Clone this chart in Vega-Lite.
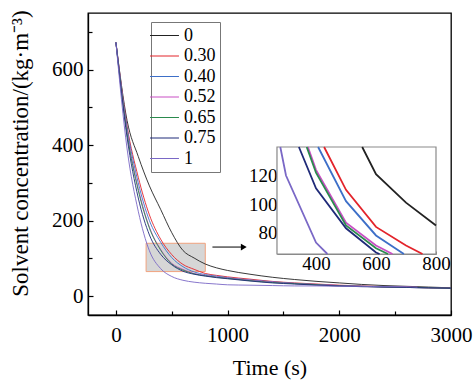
{
  "$schema": "https://vega.github.io/schema/vega-lite/v6.json",
  "width": 363,
  "height": 302,
  "autosize": {"type": "none"},
  "padding": {"left": 88, "top": 13, "right": 23, "bottom": 69},
  "config": {
    "font": "Liberation Serif",
    "view": {"stroke": "black", "strokeWidth": 1.3},
    "axis": {"labelFont": "Liberation Serif", "titleFont": "Liberation Serif", "labelColor": "black", "titleColor": "black", "titleFontWeight": "normal", "domainColor": "black", "tickColor": "black", "grid": false, "labelFlush": false},
    "legend": {"labelFont": "Liberation Serif", "labelFontSize": 18, "labelColor": "black"}
  },
  "datasets": {
    "main": [
      {"s":"0","t":0,"c":672},{"s":"0","t":100,"c":465},{"s":"0","t":200,"c":370},{"s":"0","t":300,"c":292},{"s":"0","t":400,"c":230},{"s":"0","t":500,"c":168},{"s":"0","t":600,"c":121},{"s":"0","t":700,"c":101},{"s":"0","t":800,"c":85},{"s":"0","t":900,"c":75},{"s":"0","t":1000,"c":68},{"s":"0","t":1200,"c":58},{"s":"0","t":1400,"c":50},{"s":"0","t":1600,"c":44},{"s":"0","t":1800,"c":39},{"s":"0","t":2000,"c":35},{"s":"0","t":2200,"c":31},{"s":"0","t":2400,"c":28},{"s":"0","t":2600,"c":26},{"s":"0","t":2800,"c":24},{"s":"0","t":3000,"c":22},
      {"s":"0.30","t":0,"c":672},{"s":"0.30","t":100,"c":450},{"s":"0.30","t":200,"c":315},{"s":"0.30","t":300,"c":215},{"s":"0.30","t":400,"c":151},{"s":"0.30","t":500,"c":110},{"s":"0.30","t":600,"c":84},{"s":"0.30","t":700,"c":71},{"s":"0.30","t":800,"c":60},{"s":"0.30","t":900,"c":55},{"s":"0.30","t":1000,"c":51},{"s":"0.30","t":1200,"c":45},{"s":"0.30","t":1400,"c":39},{"s":"0.30","t":1600,"c":35},{"s":"0.30","t":1800,"c":32},{"s":"0.30","t":2000,"c":29},{"s":"0.30","t":2200,"c":27},{"s":"0.30","t":2400,"c":25},{"s":"0.30","t":2600,"c":24},{"s":"0.30","t":2800,"c":22},{"s":"0.30","t":3000,"c":21},
      {"s":"0.40","t":0,"c":672},{"s":"0.40","t":100,"c":445},{"s":"0.40","t":200,"c":300},{"s":"0.40","t":300,"c":200},{"s":"0.40","t":400,"c":143},{"s":"0.40","t":500,"c":102},{"s":"0.40","t":600,"c":78},{"s":"0.40","t":700,"c":64},{"s":"0.40","t":800,"c":57},{"s":"0.40","t":900,"c":53},{"s":"0.40","t":1000,"c":49},{"s":"0.40","t":1200,"c":43},{"s":"0.40","t":1400,"c":38},{"s":"0.40","t":1600,"c":34},{"s":"0.40","t":1800,"c":31},{"s":"0.40","t":2000,"c":28},{"s":"0.40","t":2200,"c":26},{"s":"0.40","t":2400,"c":25},{"s":"0.40","t":2600,"c":23},{"s":"0.40","t":2800,"c":22},{"s":"0.40","t":3000,"c":21},
      {"s":"0.52","t":0,"c":672},{"s":"0.52","t":100,"c":435},{"s":"0.52","t":200,"c":285},{"s":"0.52","t":300,"c":183},{"s":"0.52","t":400,"c":124},{"s":"0.52","t":500,"c":87},{"s":"0.52","t":600,"c":71},{"s":"0.52","t":700,"c":60},{"s":"0.52","t":800,"c":55},{"s":"0.52","t":900,"c":51},{"s":"0.52","t":1000,"c":48},{"s":"0.52","t":1200,"c":42},{"s":"0.52","t":1400,"c":37},{"s":"0.52","t":1600,"c":33},{"s":"0.52","t":1800,"c":30},{"s":"0.52","t":2000,"c":28},{"s":"0.52","t":2200,"c":26},{"s":"0.52","t":2400,"c":24},{"s":"0.52","t":2600,"c":23},{"s":"0.52","t":2800,"c":22},{"s":"0.52","t":3000,"c":21},
      {"s":"0.65","t":0,"c":672},{"s":"0.65","t":100,"c":430},{"s":"0.65","t":200,"c":280},{"s":"0.65","t":300,"c":180},{"s":"0.65","t":400,"c":122},{"s":"0.65","t":500,"c":85},{"s":"0.65","t":600,"c":69},{"s":"0.65","t":700,"c":59},{"s":"0.65","t":800,"c":54},{"s":"0.65","t":900,"c":50},{"s":"0.65","t":1000,"c":47},{"s":"0.65","t":1200,"c":41},{"s":"0.65","t":1400,"c":36},{"s":"0.65","t":1600,"c":33},{"s":"0.65","t":1800,"c":30},{"s":"0.65","t":2000,"c":27},{"s":"0.65","t":2200,"c":26},{"s":"0.65","t":2400,"c":24},{"s":"0.65","t":2600,"c":23},{"s":"0.65","t":2800,"c":22},{"s":"0.65","t":3000,"c":21},
      {"s":"0.75","t":0,"c":672},{"s":"0.75","t":100,"c":420},{"s":"0.75","t":200,"c":260},{"s":"0.75","t":300,"c":162},{"s":"0.75","t":400,"c":111},{"s":"0.75","t":500,"c":83},{"s":"0.75","t":600,"c":66},{"s":"0.75","t":700,"c":58},{"s":"0.75","t":800,"c":53},{"s":"0.75","t":900,"c":49},{"s":"0.75","t":1000,"c":46},{"s":"0.75","t":1200,"c":40},{"s":"0.75","t":1400,"c":35},{"s":"0.75","t":1600,"c":32},{"s":"0.75","t":1800,"c":29},{"s":"0.75","t":2000,"c":27},{"s":"0.75","t":2200,"c":25},{"s":"0.75","t":2400,"c":24},{"s":"0.75","t":2600,"c":23},{"s":"0.75","t":2800,"c":22},{"s":"0.75","t":3000,"c":21},
      {"s":"1","t":0,"c":672},{"s":"1","t":100,"c":390},{"s":"1","t":200,"c":225},{"s":"1","t":300,"c":120},{"s":"1","t":400,"c":73},{"s":"1","t":500,"c":52},{"s":"1","t":600,"c":42},{"s":"1","t":700,"c":37},{"s":"1","t":800,"c":34},{"s":"1","t":900,"c":32},{"s":"1","t":1000,"c":30},{"s":"1","t":1200,"c":29},{"s":"1","t":1400,"c":28},{"s":"1","t":1600,"c":27},{"s":"1","t":1800,"c":27},{"s":"1","t":2000,"c":26},{"s":"1","t":2200,"c":26},{"s":"1","t":2400,"c":25},{"s":"1","t":2600,"c":25},{"s":"1","t":2700,"c":24}
    ],
    "inset": [
      {"s":"0","t":554,"c":140},{"s":"0","t":600,"c":121},{"s":"0","t":700,"c":101},{"s":"0","t":800,"c":85},
      {"s":"0.30","t":427,"c":140},{"s":"0.30","t":500,"c":110},{"s":"0.30","t":600,"c":84},{"s":"0.30","t":700,"c":71},{"s":"0.30","t":755,"c":65},
      {"s":"0.40","t":407,"c":140},{"s":"0.40","t":500,"c":102},{"s":"0.40","t":600,"c":78},{"s":"0.40","t":693,"c":65},
      {"s":"0.52","t":373,"c":140},{"s":"0.52","t":400,"c":124},{"s":"0.52","t":500,"c":87},{"s":"0.52","t":600,"c":71},{"s":"0.52","t":655,"c":65},
      {"s":"0.65","t":369,"c":140},{"s":"0.65","t":400,"c":122},{"s":"0.65","t":500,"c":85},{"s":"0.65","t":600,"c":69},{"s":"0.65","t":640,"c":65},
      {"s":"0.75","t":343,"c":140},{"s":"0.75","t":400,"c":111},{"s":"0.75","t":500,"c":83},{"s":"0.75","t":600,"c":66},{"s":"0.75","t":612,"c":65},
      {"s":"1","t":281,"c":140},{"s":"1","t":300,"c":120},{"s":"1","t":400,"c":73},{"s":"1","t":438,"c":65}
    ],
    "box": [{"t":270,"t2":800,"c":65,"c2":140}],
    "arrow": [{"t":864,"t2":1135,"c":130}],
    "head": [{"t":1145,"c":130}]
  },
  "layer": [
    {
      "layer": [
        {
          "data": {"name": "box"},
          "mark": {"type": "rect", "fill": "#cfcfcf", "fillOpacity": 0.85, "stroke": "#f0a27e", "strokeWidth": 1},
          "encoding": {
            "x": {"field": "t", "type": "quantitative", "scale": {"domain": [-250, 3000], "nice": false, "zero": false}},
            "x2": {"field": "t2"},
            "y": {"field": "c", "type": "quantitative", "scale": {"domain": [-50, 750], "nice": false, "zero": false}},
            "y2": {"field": "c2"}
          }
        },
        {
          "data": {"name": "main"},
          "mark": {"type": "line", "strokeWidth": 0.9, "interpolate": "monotone"},
          "encoding": {
            "x": {"field": "t", "type": "quantitative", "scale": {"domain": [-250, 3000], "nice": false, "zero": false},
              "axis": {"title": "Time (s)", "titleFontSize": 22, "titlePadding": 12, "labelFontSize": 21, "labelPadding": 14, "labelFlush": false, "values": [0,500,1000,1500,2000,2500,3000], "labelExpr": "datum.value % 1000 === 0 ? datum.label : ''", "format": "d", "tickSize": {"condition": {"test": "datum.value % 1000 !== 0", "value": -4}, "value": -5}, "domainWidth": 1.3, "tickWidth": 1.2}},
            "y": {"field": "c", "type": "quantitative", "scale": {"domain": [-50, 750], "nice": false, "zero": false},
              "axis": {"title": "Solvent concentration/(kg·m⁻³)", "titleFontSize": 23, "titlePadding": 19, "titleY": 140, "labelFontSize": 21, "labelPadding": 10, "values": [0,100,200,300,400,500,600,700], "labelExpr": "datum.value % 200 === 0 ? datum.label : ''", "tickSize": {"condition": {"test": "datum.value % 200 !== 0", "value": -4}, "value": -5}, "domainWidth": 1.3, "tickWidth": 1.2}},
            "color": {"field": "s", "type": "nominal",
              "scale": {"domain": ["0","0.30","0.40","0.52","0.65","0.75","1"], "range": ["#222222","#e3242b","#3d6fc8","#c94fc4","#2a8a4d","#1f2a78","#7a68c6"]},
              "legend": {"title": null, "orient": "none", "legendX": 63, "legendY": 9, "symbolType": "M-1.7,0H1.7", "symbolSize": 290, "symbolStrokeWidth": 1, "labelFontSize": 18, "labelFont": "Liberation Serif", "labelColor": "black", "rowPadding": 1.5, "strokeColor": "#777777", "fillColor": "white", "padding": 4, "labelOffset": 10}}
          }
        },
        {
          "data": {"name": "arrow"},
          "mark": {"type": "rule", "color": "black", "strokeWidth": 1},
          "encoding": {"x": {"field": "t", "type": "quantitative"}, "x2": {"field": "t2"}, "y": {"field": "c", "type": "quantitative"}}
        },
        {
          "data": {"name": "head"},
          "mark": {"type": "point", "shape": "triangle-right", "filled": true, "color": "black", "size": 45, "opacity": 1},
          "encoding": {"x": {"field": "t", "type": "quantitative"}, "y": {"field": "c", "type": "quantitative"}}
        }
      ]
    },
    {
      "layer": [
        {
          "data": {"name": "box"},
          "mark": {"type": "rect", "fill": "white", "stroke": "#8a8a8a", "strokeWidth": 1.2},
          "encoding": {
            "x": {"field": "t", "type": "quantitative", "scale": {"domain": [270, 800], "range": [189, 348], "nice": false, "zero": false}},
            "x2": {"field": "t2"},
            "y": {"field": "c", "type": "quantitative", "scale": {"domain": [65, 140], "range": [241, 134], "nice": false, "zero": false}},
            "y2": {"field": "c2"}
          }
        },
        {
          "data": {"name": "inset"},
          "mark": {"type": "line", "strokeWidth": 1.8},
          "encoding": {
            "x": {"field": "t", "type": "quantitative", "scale": {"domain": [270, 800], "range": [189, 348], "nice": false, "zero": false},
              "axis": {"orient": "bottom", "offset": -61, "title": null, "labelFontSize": 19, "labelPadding": 3, "labelFlush": false, "values": [300,400,500,600,700,800], "labelExpr": "datum.value % 200 === 0 ? datum.label : ''", "tickSize": {"condition": {"test": "datum.value % 200 !== 0", "value": -2}, "value": -3}, "domainColor": "#8a8a8a", "tickColor": "#8a8a8a", "domainWidth": 1.2}},
            "y": {"field": "c", "type": "quantitative", "scale": {"domain": [65, 140], "range": [241, 134], "nice": false, "zero": false},
              "axis": {"orient": "left", "offset": -189, "title": null, "labelFontSize": 19, "labelPadding": 3, "labelFlush": false, "values": [70,80,90,100,110,120,130], "labelExpr": "datum.value % 20 === 0 ? datum.label : ''", "tickSize": {"condition": {"test": "datum.value % 20 !== 0", "value": -2}, "value": -3}, "domainColor": "#8a8a8a", "tickColor": "#8a8a8a", "domainWidth": 1.2}},
            "color": {"field": "s", "type": "nominal"}
          }
        }
      ]
    }
  ],
  "resolve": {"scale": {"x": "independent", "y": "independent"}, "axis": {"x": "independent", "y": "independent"}}
}
